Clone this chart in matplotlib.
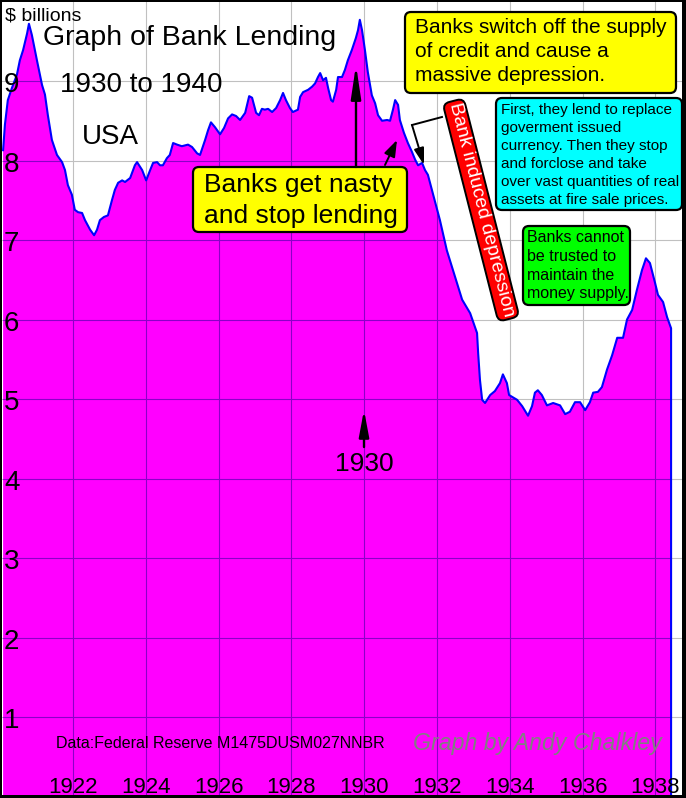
import matplotlib
matplotlib.use('Agg')
import matplotlib.pyplot as plt
import matplotlib.transforms as mtransforms
from matplotlib.patches import FancyBboxPatch

plt.rcParams['font.family'] = ['Liberation Sans', 'DejaVu Sans']

# bank lending, $ billions
years = [1920.08, 1920.13, 1920.21, 1920.32, 1920.46, 1920.54, 1920.63, 1920.74, 1920.79, 1920.87,
         1921.01, 1921.15, 1921.23, 1921.31, 1921.42, 1921.56, 1921.70, 1921.78, 1921.86, 1921.97,
         1922.05, 1922.14, 1922.25, 1922.33, 1922.47, 1922.58, 1922.66, 1922.74, 1922.85, 1922.96,
         1923.07, 1923.15, 1923.24, 1923.35, 1923.43, 1923.57, 1923.70, 1923.76, 1923.90, 1924.01,
         1924.12, 1924.20, 1924.31, 1924.39, 1924.47, 1924.58, 1924.66, 1924.75, 1924.86, 1924.99,
         1925.16, 1925.27, 1925.41, 1925.49, 1925.63, 1925.71, 1925.79, 1925.90, 1926.04, 1926.15,
         1926.26, 1926.37, 1926.48, 1926.59, 1926.73, 1926.84, 1926.92, 1927.03, 1927.11, 1927.19,
         1927.27, 1927.36, 1927.47, 1927.58, 1927.69, 1927.77, 1927.85, 1927.96, 1928.04, 1928.18,
         1928.24, 1928.32, 1928.46, 1928.57, 1928.65, 1928.73, 1928.79, 1928.87, 1928.95, 1929.01,
         1929.09, 1929.14, 1929.23, 1929.28, 1929.39, 1929.47, 1929.55, 1929.66, 1929.77, 1929.83,
         1929.88, 1929.94, 1930.02, 1930.10, 1930.21, 1930.30, 1930.38, 1930.49, 1930.63, 1930.71,
         1930.79, 1930.85, 1930.93, 1930.98, 1931.09, 1931.20, 1931.31, 1931.40, 1931.48, 1931.59,
         1931.67, 1931.75, 1931.86, 1932.08, 1932.27, 1932.44, 1932.69, 1932.91, 1933.10, 1933.13,
         1933.18, 1933.24, 1933.32, 1933.46, 1933.59, 1933.73, 1933.81, 1933.92, 1933.98, 1934.20,
         1934.34, 1934.50, 1934.61, 1934.69, 1934.77, 1934.88, 1935.02, 1935.19, 1935.38, 1935.52,
         1935.65, 1935.79, 1935.93, 1936.07, 1936.20, 1936.29, 1936.42, 1936.53, 1936.67, 1936.81,
         1936.95, 1937.11, 1937.22, 1937.36, 1937.49, 1937.63, 1937.74, 1937.85, 1937.99, 1938.07,
         1938.21, 1938.32, 1938.43]
lending = [8.13, 8.45, 8.76, 8.91, 9.08, 9.26, 9.39, 9.60, 9.72, 9.58,
           9.26, 8.95, 8.83, 8.57, 8.26, 8.07, 7.98, 7.88, 7.69, 7.57,
           7.38, 7.35, 7.34, 7.25, 7.13, 7.06, 7.13, 7.25, 7.29, 7.31,
           7.50, 7.63, 7.72, 7.75, 7.73, 7.78, 7.94, 7.98, 7.88, 7.75,
           7.88, 7.97, 7.98, 7.94, 7.94, 8.03, 8.07, 8.22, 8.20, 8.18,
           8.20, 8.17, 8.09, 8.07, 8.26, 8.38, 8.48, 8.42, 8.33, 8.41,
           8.53, 8.58, 8.56, 8.51, 8.60, 8.81, 8.79, 8.60, 8.57, 8.65,
           8.64, 8.65, 8.61, 8.66, 8.76, 8.85, 8.76, 8.66, 8.61, 8.64,
           8.80, 8.86, 8.89, 8.93, 8.97, 9.05, 9.10, 9.01, 9.04, 8.91,
           8.76, 8.74, 8.89, 9.05, 9.05, 9.14, 9.26, 9.39, 9.54, 9.64,
           9.77, 9.64, 9.39, 9.11, 8.82, 8.72, 8.57, 8.50, 8.51, 8.50,
           8.64, 8.76, 8.70, 8.51, 8.35, 8.22, 8.11, 8.01, 7.94, 7.97,
           7.88, 7.82, 7.63, 7.25, 6.87, 6.62, 6.25, 6.08, 5.83, 5.58,
           5.24, 4.99, 4.95, 5.05, 5.10, 5.20, 5.31, 5.20, 5.05, 4.99,
           4.91, 4.79, 4.91, 5.08, 5.11, 5.05, 4.92, 4.95, 4.92, 4.81,
           4.84, 4.96, 4.96, 4.86, 4.96, 5.08, 5.09, 5.15, 5.37, 5.55,
           5.77, 5.77, 6.00, 6.12, 6.37, 6.62, 6.77, 6.71, 6.46, 6.31,
           6.22, 6.03, 5.89]

x_ticks = [1922, 1924, 1926, 1928, 1930, 1932, 1934, 1936, 1938]
y_ticks = [1, 2, 3, 4, 5, 6, 7, 8, 9]

box_top = ['Banks switch off the supply', 'of credit and cause a', 'massive depression.']
box_nasty = ['Banks get nasty', 'and stop lending']
box_cyan = ['First, they lend to replace', 'goverment issued', 'currency. Then they stop',
            'and forclose and take', 'over vast quantities of real', 'assets at fire sale prices.']
box_green = ['Banks cannot', 'be trusted to', 'maintain the', 'money supply.']

fig = plt.figure(figsize=(6.86, 7.98), dpi=100, facecolor='black')
ax = fig.add_axes([2 / 686, 3 / 798, 680 / 686, 793 / 798])
ax.set_facecolor('white')
ax.set_xlim(1920.05, 1938.73)
ax.set_ylim(0.019, 9.994)
ax.set_xticks(x_ticks)
ax.set_yticks(y_ticks)
ax.tick_params(length=0, labelbottom=False, labelleft=False)
for s in ax.spines.values():
    s.set_visible(False)
ax.set_axisbelow(True)
ax.grid(True, color='#c0c0c0', lw=0.8)

# magenta area, purple grid on top of it, blue outline
poly = ax.fill_between(years, lending, 0, facecolor='#ff00ff', edgecolor='none', zorder=1)
clip = poly.get_paths()[0]
for xv in x_ticks:
    ln = ax.axvline(xv, color='#8c00c8', lw=0.8, zorder=1.5)
    ln.set_clip_path(clip, ax.transData)
for yv in y_ticks:
    ln = ax.axhline(yv, color='#8c00c8', lw=0.8, zorder=1.5)
    ln.set_clip_path(clip, ax.transData)
ax.plot(years + [years[-1]], lending + [0], color='#0000ff', lw=1.5, zorder=2)

# pixel coords (top-left origin) for the annotations
pix = mtransforms.Affine2D().scale(1 / 686, -1 / 798).translate(0, 1) + fig.transFigure

# tick labels inside the plot
xlab_tr = mtransforms.blended_transform_factory(ax.transData, pix)
for yr in x_ticks:
    ax.text(yr, 793, str(yr), transform=xlab_tr, ha='center', va='baseline', fontsize=16, zorder=6)
ylab_tr = mtransforms.blended_transform_factory(pix, ax.transData)
for v in y_ticks:
    ax.text(4, v - 0.14, str(v), transform=ylab_tr, ha='left', va='baseline', fontsize=20, zorder=6)

ax.text(5, 20, '$ billions', transform=pix, fontsize=14, va='baseline', zorder=6)
ax.text(43, 45, 'Graph of Bank Lending', transform=pix, fontsize=20.5, va='baseline', zorder=6)
ax.text(60, 92, '1930 to 1940', transform=pix, fontsize=20, va='baseline', zorder=6)
ax.text(82, 144, 'USA', transform=pix, fontsize=20, va='baseline', zorder=6)
ax.text(364, 471, '1930', transform=pix, fontsize=19, ha='center', va='baseline', zorder=6)
ax.text(56, 748, 'Data:Federal Reserve M1475DUSM027NNBR', transform=pix, fontsize=11.5,
        va='baseline', zorder=6)
ax.text(413, 750, 'Graph by Andy Chalkley', transform=pix, fontsize=16.7, style='italic',
        color='#808080', va='baseline', zorder=6)


def box(x0, y0, x1, y1, fc):
    p = FancyBboxPatch((x0, y0), x1 - x0, y1 - y0, boxstyle='round,pad=0,rounding_size=6',
                       transform=pix, facecolor=fc, edgecolor='black', lw=1.6, zorder=4)
    ax.add_patch(p)


def lines(x, y, step, rows, size):
    for i, t in enumerate(rows):
        ax.text(x, y + i * step, t, transform=pix, fontsize=size, va='baseline', zorder=5)


box(405, 12, 676, 93, '#ffff00')
lines(415, 33, 24, box_top, 15)
box(193, 167, 407, 232, '#ffff00')
lines(204, 192, 31, box_nasty, 19)
box(496, 98, 682, 210, '#00ffff')
lines(501, 114, 18, box_cyan, 11)
box(523, 226, 630, 305, '#00ff00')
lines(527, 242, 18.8, box_green, 11.5)

ax.text(481, 210, 'Bank induced depression', transform=pix, rotation=-75.7, rotation_mode='anchor',
        ha='center', va='center', color='white', fontsize=14, zorder=5,
        bbox=dict(boxstyle='round,pad=0.12,rounding_size=0.35', fc='#ff0000', ec='black', lw=1.4))

arrow = dict(color='black', shrinkA=0, shrinkB=0, mutation_scale=10)
ax.annotate('', xy=(356, 65), xytext=(356, 167), xycoords=pix, textcoords=pix,
            arrowprops=dict(arrowstyle='-|>,head_length=2.0,head_width=0.3', lw=1.7, **arrow), zorder=6)
ax.annotate('', xy=(397, 140), xytext=(385, 165), xycoords=pix, textcoords=pix,
            arrowprops=dict(arrowstyle='-|>,head_length=1.0,head_width=0.35', lw=1.4, **arrow), zorder=6)
ax.plot([442, 412], [117, 125], transform=pix, color='black', lw=1.4, zorder=6)
ax.annotate('', xy=(424, 165), xytext=(412, 125), xycoords=pix, textcoords=pix,
            arrowprops=dict(arrowstyle='-|>,head_length=1.0,head_width=0.3', lw=1.4, **arrow), zorder=6)
ax.annotate('', xy=(364, 410), xytext=(364, 447), xycoords=pix, textcoords=pix,
            arrowprops=dict(arrowstyle='-|>,head_length=1.6,head_width=0.3', lw=1.7, **arrow), zorder=6)

fig.savefig('out.png', dpi=100, facecolor='black')
